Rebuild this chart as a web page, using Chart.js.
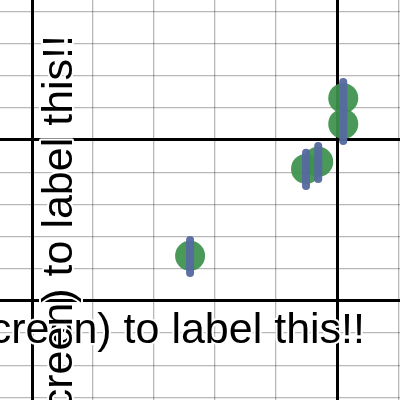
<!DOCTYPE html>
<html><head><meta charset="utf-8">
<script src="https://cdn.jsdelivr.net/npm/chart.js@4/dist/chart.umd.min.js"></script>
<style>html,body{margin:0;padding:0;background:#fff}#w{width:400px;height:400px}</style>
</head><body><div id="w"><canvas id="c"></canvas></div>
<script>
const pointsX = [2.59, 4.49, 4.69, 5.10, 5.10];
const pointsY = [1.40, 4.10, 4.32, 5.50, 6.30];
const barX = [2.59, 4.49, 4.69, 5.10];
const barLow = [0.87, 3.57, 3.79, 4.97];
const barHigh = [1.89, 4.60, 4.81, 6.80];
const xTicks = [0, 1, 2, 3, 4, 5, 6];
const yTicks = [-3, -2, -1, 0, 1, 2, 3, 4, 5, 6, 7, 8, 9];
const xTitle = "Click here (or on the screen) to label this!!";
const yTitle = "Click here (or on the screen) to label this!!";

const barData = [];
barX.forEach((x,i)=>{barData.push({x:x,y:barLow[i]},{x:x,y:barHigh[i]},{x:x,y:null});});

const titles = {id:'titles', afterDraw(ch){
  const c=ch.ctx; c.save();
  c.font='43px "Liberation Sans", Arial, sans-serif';
  c.lineJoin='round'; c.strokeStyle='#fff'; c.lineWidth=4; c.fillStyle='#000';
  c.textAlign='right'; c.textBaseline='alphabetic';
  c.strokeText(xTitle,365,343); c.fillText(xTitle,365,343);
  c.translate(72,35); c.rotate(-Math.PI/2);
  c.strokeText(yTitle,0,0); c.fillText(yTitle,0,0);
  c.restore();
}};

const isBold = ctx => ctx.tick && (ctx.tick.value===0 || ctx.tick.value===5);
const gridColor = ctx => isBold(ctx) ? '#000' : 'rgba(0,0,0,0.28)';
const gridWidth = ctx => isBold(ctx) ? 3 : 1.3;

new Chart(document.getElementById('c'), {
  type:'scatter',
  data:{datasets:[
    {type:'line', data:barData, borderColor:'rgba(85,105,160,0.95)', borderWidth:8, borderCapStyle:'round', pointRadius:0, spanGaps:false, order:0},
    {data:pointsX.map((x,i)=>({x:x,y:pointsY[i]})), backgroundColor:'rgba(60,145,75,0.93)', borderWidth:0, pointRadius:15, order:1}
  ]},
  options:{responsive:true, maintainAspectRatio:false, animation:false,
    layout:{padding:0, autoPadding:false},
    plugins:{legend:{display:false}, tooltip:{enabled:false}},
    scales:{
      x:{type:'linear', min:-0.525, max:6.03, ticks:{display:false}, border:{display:false}, grid:{color:gridColor, lineWidth:gridWidth, drawTicks:false},
         afterBuildTicks(s){s.ticks=xTicks.map(v=>({value:v}));}, afterFit(s){s.height=0;}},
      y:{type:'linear', min:-3.08, max:9.35, ticks:{display:false}, border:{display:false}, grid:{color:gridColor, lineWidth:gridWidth, drawTicks:false},
         afterBuildTicks(s){s.ticks=yTicks.map(v=>({value:v}));}, afterFit(s){s.width=0;}}
    }
  },
  plugins:[titles]
});
</script></body></html>
